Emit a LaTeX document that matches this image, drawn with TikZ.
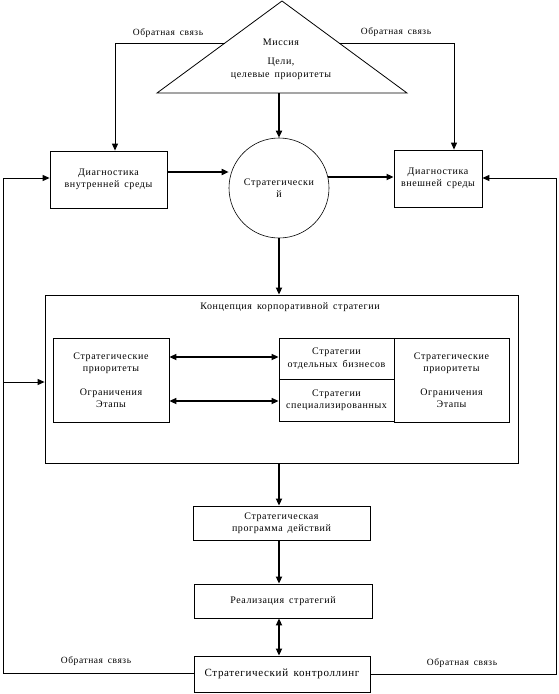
\documentclass[tikz,border=0pt]{standalone}
\usepackage{fontspec}
\setmainfont{Liberation Serif}[LetterSpace=6,WordSpace=1.6]
\usetikzlibrary{arrows.meta,calc}
\begin{document}
\begin{tikzpicture}[x=1pt,y=-1pt,
  every node/.style={font=\fontsize{10}{12.5}\selectfont, align=center, inner sep=0pt},
  boxn/.style={draw, line width=0.8pt},
  thickarr/.style={line width=1.6pt, -{Triangle[length=7pt,width=6pt]}},
  dblarr/.style={line width=1.6pt, {Triangle[length=7pt,width=6pt]}-{Triangle[length=7pt,width=6pt]}},
  thinarr/.style={line width=1pt, -{Triangle[length=7pt,width=6pt]}},
  thinline/.style={line width=1pt},
  lbl/.style={font=\fontsize{9.5}{11}\selectfont}]
\useasboundingbox (0,0) rectangle (558,694);
% triangle
\coordinate (tl) at (157,93);
\coordinate (tr) at (407,93);
\coordinate (ta) at (282,1);
\draw[line width=0.8pt] (tl) -- (ta) -- (tr) -- cycle;
\node (mis) at (281,42) {Миссия};
\node (goals) at (281,69) {Цели,\\[1pt]целевые приоритеты};
\coordinate (tfl) at (225,43);
\coordinate (tfr) at (339,43);
\coordinate (tbot) at (279,93);
% boxes
\node[boxn, minimum width=117pt, minimum height=57pt] (inn) at (108.5,179.5) {Диагностика\\внутренней среды};
\node[boxn, minimum width=88pt, minimum height=57pt] (ext) at (438,178.5) {Диагностика\\внешней среды};
\node[draw, line width=0.6pt, circle, minimum size=100pt] (circ) at (279,188) {Стратегически\\й};
% feedback top
\draw[thinarr] (tfl) -- (115,43) -- (inn.north -| 115,0);
\node[lbl] (fbl) at (168,33) {Обратная связь};
\draw[thinarr] (tfr) -- (454,43) -- (ext.north -| 454,0);
\node[lbl] (fbr) at (396,32) {Обратная связь};
\draw[thickarr] (tbot) -- (circ.north);
\draw[thickarr] (inn.east |- 0,172) -- (circ.west |- 0,172);
\draw[thickarr] ($(circ.center)+(48.5,-11)$) -- (ext.west |- 0,177);
% big box
\node[boxn, minimum width=473pt, minimum height=168pt] (big) at (281.5,379) {};
\node (bigt) at (290,307) {Концепция корпоративной стратегии};
\draw[thickarr] (circ.south) -- (circ.south |- big.north);
\node[boxn, minimum width=116pt, minimum height=84pt] (lin) at (111,380) {Стратегические\\приоритеты\\[1.1em]Ограничения\\Этапы};
\node[boxn, minimum width=115pt, minimum height=41pt] (mt) at (336.5,358.5) {Стратегии\\отдельных бизнесов};
\node[boxn, minimum width=115pt, minimum height=42pt] (mb) at (336.5,400) {Стратегии\\специализированных};
\node[boxn, minimum width=115pt, minimum height=84pt] (rin) at (451.5,380) {Стратегические\\приоритеты\\[1.1em]Ограничения\\Этапы};
\draw[dblarr] (lin.east |- 0,357) -- (mt.west |- 0,357);
\draw[dblarr] (lin.east |- 0,401) -- (mb.west |- 0,401);
% lower chain
\node[boxn, minimum width=177pt, minimum height=34pt] (prog) at (281.5,523) {Стратегическая\\программа действий};
\node[boxn, minimum width=178pt, minimum height=34pt] (real) at (283,601) {Реализация стратегий};
\node[boxn, minimum width=176pt, minimum height=36pt, font=\fontsize{11}{13}\selectfont] (ctrl) at (282,674) {Стратегический контроллинг};
\draw[thickarr] (big.south -| circ.south) -- (prog.north -| circ.south);
\draw[thickarr] (prog.south -| circ.south) -- (real.north -| circ.south);
\draw[dblarr] (real.south -| circ.south) -- (ctrl.north -| circ.south);
% return lines
\coordinate (lbot) at (3,673);
\coordinate (rbot) at (556,674);
\draw[thinarr] (ctrl.west |- lbot) -- (lbot) -- (3,178) -- (inn.west |- 0,178);
\draw[thinarr] (3,382) -- (big.west |- 0,382);
\draw[thinarr] (ctrl.east |- rbot) -- (rbot) -- (556,178) -- (ext.east |- 0,178);
\node[lbl] (fbbl) at (96,661) {Обратная связь};
\node[lbl] (fbbr) at (462,663) {Обратная связь};
\end{tikzpicture}
\end{document}
